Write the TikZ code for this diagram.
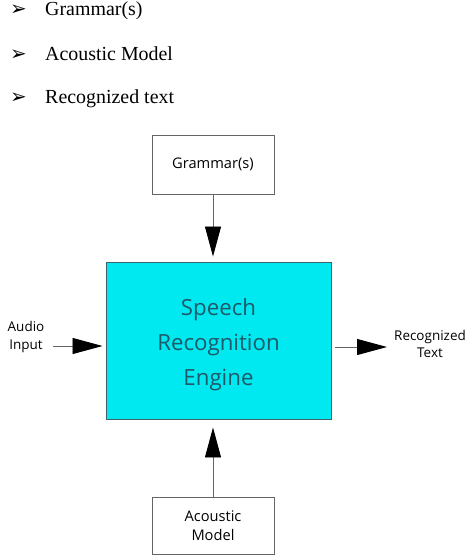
\documentclass[tikz,border=0pt]{standalone}
\usepackage{fontspec}
\setmainfont{Liberation Serif}
\newfontfamily\diagfont{Open Sans}
\newfontfamily\symfont{DejaVu Sans}
\usetikzlibrary{arrows.meta}

\definecolor{enginefill}{RGB}{0,232,240}
\definecolor{enginetext}{RGB}{30,90,105}
\definecolor{engineline}{RGB}{60,100,105}
\definecolor{lineg}{RGB}{100,100,100}

\tikzset{
	item/.style={anchor=base west, inner sep=0pt, font=\fontsize{17}{20}\selectfont},
	bullet/.style={anchor=base west, inner sep=0pt, font=\symfont\fontsize{17}{20}\selectfont},
	inbox/.style={draw=lineg, thick, fill=white, minimum width=3.66cm, font=\diagfont\fontsize{12.5}{16}\selectfont, align=center},
	sidelabel/.style={font=\diagfont\fontsize{11.5}{15}\selectfont, align=center, inner sep=0pt},
	flow/.style={draw=lineg, thick, -{Triangle[length=30*0.03cm, width=16*0.03cm, black]}}
}

\begin{document}
\begin{tikzpicture}[x=0.03cm, y=-0.03cm]
		\useasboundingbox (0, 0) rectangle (474, 560);

		% list of parts
		\node[bullet] (b1) at (10, 15) {➢};
		\node[item] (t1) at (45, 15) {Grammar(s)};
		\node[bullet] (b2) at (10, 60) {➢};
		\node[item] (t2) at (45, 60) {Acoustic Model};
		\node[bullet] (b3) at (10, 103) {➢};
		\node[item] (t3) at (45, 103) {Recognized text};

		% engine
		\node[draw=engineline, thick, fill=enginefill, minimum width=6.75cm, minimum height=4.71cm] (engine) at (218.5, 340.5) {};
		\node[text=enginetext, align=center, font=\diagfont\fontsize{19}{30}\selectfont] (enginelbl) at (218.5, 345) {Speech\\Recognition\\Engine};

		% grammar into engine
		\node[inbox, minimum height=1.77cm] (grammar) at (213, 164.5) {Grammar(s)};
		\draw[flow, shorten >=5*0.03cm] (grammar) -- (grammar |- engine.north);

		% acoustic model into engine
		\node[inbox, minimum height=1.71cm] (acoustic) at (213, 525.5) {Acoustic\\Model};
		\draw[flow, shorten >=8*0.03cm] (acoustic) -- (acoustic |- engine.south);

		% audio input
		\node[sidelabel] (audio) at (26, 337) {Audio\\Input};
		\coordinate (ain) at (53, 346);
		\draw[flow, shorten >=3*0.03cm] (ain) -- (ain -| engine.west);

		% recognized text out
		\node[sidelabel] (rtext) at (430, 344) {Recognized\\Text};
		\coordinate (aout) at (387, 347);
		\draw[flow, shorten <=4*0.03cm] (aout -| engine.east) -- (aout);

	\end{tikzpicture}
\end{document}
